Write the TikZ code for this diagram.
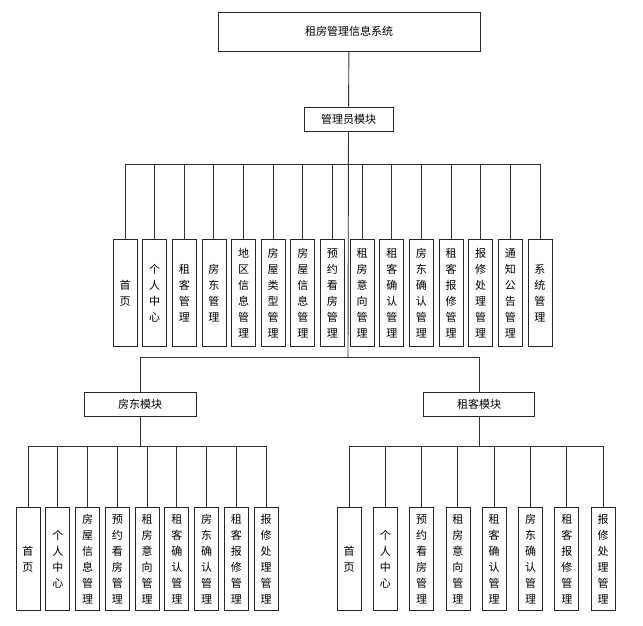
\documentclass[tikz,border=0pt]{standalone}
\usepackage{fontspec}
\newfontfamily\cjk{Noto Sans CJK SC}
\begin{document}
\begin{tikzpicture}[x=1pt,y=-1pt,
  box/.style={draw=black!85,line width=0.8pt,fill=white,inner sep=0pt,font=\cjk\fontsize{11}{16}\selectfont,align=center},
  vbox/.style={box,minimum width=24pt,anchor=north},
  ln/.style={draw=black!80,line width=0.9pt}]
\useasboundingbox (0,0) rectangle (643,626);
\node[box,minimum width=262pt,minimum height=39pt] (top) at (349,31.5) {租房管理信息系统};
\node[box,minimum width=89pt,minimum height=24pt] (adm) at (348.5,119) {管理员模块};
\coordinate (j1) at (348,357);
\draw[ln] (top) -- (adm);
\draw[ln] (adm) -- (j1);
% middle row
\def\mid{{"首\\页","个\\人\\中\\心","租\\客\\管\\理","房\\东\\管\\理","地\\区\\信\\息\\管\\理","房\\屋\\类\\型\\管\\理","房\\屋\\信\\息\\管\\理","预\\约\\看\\房\\管\\理","租\\房\\意\\向\\管\\理","租\\客\\确\\认\\管\\理","房\\东\\确\\认\\管\\理","租\\客\\报\\修\\管\\理","报\\修\\处\\理\\管\\理","通\\知\\公\\告\\管\\理","系\\统\\管\\理"}}
\coordinate (b1) at (125,164);
\coordinate (b2) at (540,164);
\draw[ln] (b1) -- (b2);
\foreach \t [count=\i from 0] in {首\\页,个\\人\\中\\心,租\\客\\管\\理,房\\东\\管\\理,地\\区\\信\\息\\管\\理,房\\屋\\类\\型\\管\\理,房\\屋\\信\\息\\管\\理,预\\约\\看\\房\\管\\理,租\\房\\意\\向\\管\\理,租\\客\\确\\认\\管\\理,房\\东\\确\\认\\管\\理,租\\客\\报\\修\\管\\理,报\\修\\处\\理\\管\\理,通\\知\\公\\告\\管\\理,系\\统\\管\\理}{
  \coordinate (m\i t) at ({125+29.64*\i},164);
  \node[vbox,minimum height=107pt] (m\i) at ({125+29.64*\i},239) {\t};
  \draw[ln] (m\i t) -- (m\i);
}
% modules
\coordinate (j2) at (140,357);
\coordinate (j3) at (479,357);
\draw[ln] (j2) -- (j3);
\node[box,minimum width=112pt,minimum height=24pt] (fd) at (140,404) {房东模块};
\node[box,minimum width=111pt,minimum height=24pt] (zk) at (479,404) {租客模块};
\draw[ln] (j2) -- (fd);
\draw[ln] (j3) -- (zk);
% left
\coordinate (l1) at (28,446);
\coordinate (l2) at (266,446);
\draw[ln] (fd) -- (140,446);
\draw[ln] (l1) -- (l2);
\foreach \t [count=\i from 0] in {首\\页,个\\人\\中\\心,房\\屋\\信\\息\\管\\理,预\\约\\看\\房\\管\\理,租\\房\\意\\向\\管\\理,租\\客\\确\\认\\管\\理,房\\东\\确\\认\\管\\理,租\\客\\报\\修\\管\\理,报\\修\\处\\理\\管\\理}{
  \coordinate (p\i t) at ({28+29.75*\i},446);
  \node[vbox,minimum height=103pt] (p\i) at ({28+29.75*\i},507) {\t};
  \draw[ln] (p\i t) -- (p\i);
}
% right
\coordinate (r1) at (349,446);
\coordinate (r2) at (603,446);
\draw[ln] (zk) -- (479,446);
\draw[ln] (r1) -- (r2);
\foreach \t [count=\i from 0] in {首\\页,个\\人\\中\\心,预\\约\\看\\房\\管\\理,租\\房\\意\\向\\管\\理,租\\客\\确\\认\\管\\理,房\\东\\确\\认\\管\\理,租\\客\\报\\修\\管\\理,报\\修\\处\\理\\管\\理}{
  \coordinate (q\i t) at ({349+36.3*\i},446);
  \node[vbox,minimum height=103pt] (q\i) at ({349+36.3*\i},507) {\t};
  \draw[ln] (q\i t) -- (q\i);
}
\end{tikzpicture}
\end{document}
